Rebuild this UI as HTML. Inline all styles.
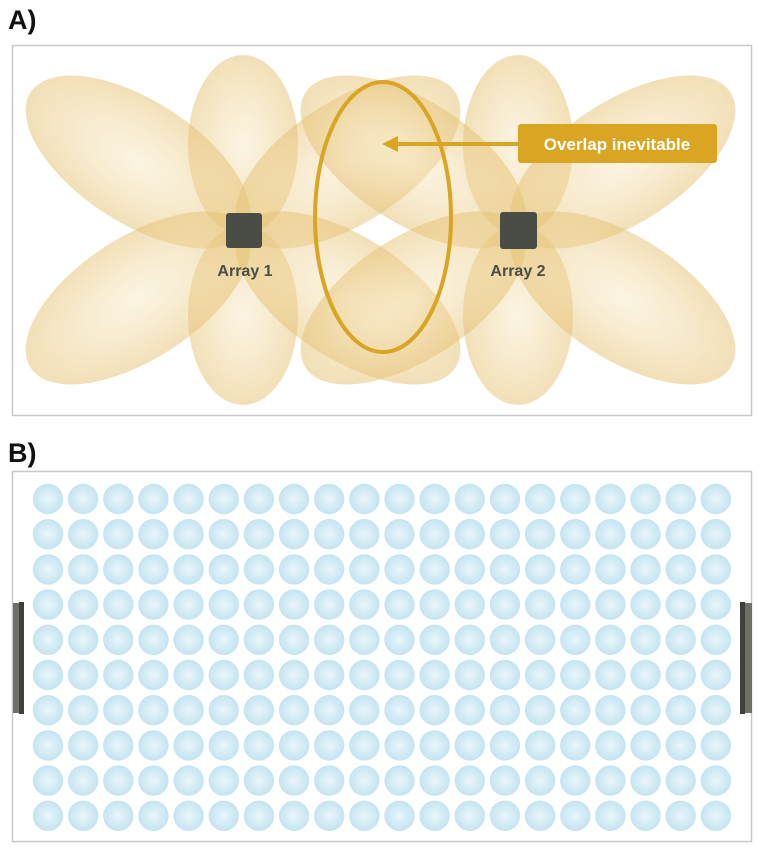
<!DOCTYPE html>
<html><head><meta charset="utf-8"><style>
html,body{margin:0;padding:0;background:#fff;}
svg{display:block;}
</style></head><body>
<svg width="765" height="859" viewBox="0 0 765 859" xmlns="http://www.w3.org/2000/svg">
<defs>
<radialGradient id="lobe" cx="50%" cy="50%" r="50%">
<stop offset="0" stop-color="#f7e4b8" stop-opacity="0.4"/>
<stop offset="1" stop-color="#e5c070" stop-opacity="0.5"/>
</radialGradient>
<radialGradient id="bub" cx="50%" cy="50%" r="50%">
<stop offset="0" stop-color="#e9f6fb"/>
<stop offset="1" stop-color="#c4e4f0"/>
</radialGradient>
<g id="flower">
<ellipse cx="0" cy="-85" rx="55" ry="90" fill="url(#lobe)"/>
<ellipse cx="0" cy="85" rx="55" ry="90" fill="url(#lobe)"/>
<ellipse cx="-105" cy="-68" rx="128" ry="61" transform="rotate(33 -105 -68)" fill="url(#lobe)"/>
<ellipse cx="105" cy="-68" rx="128" ry="61" transform="rotate(-33 105 -68)" fill="url(#lobe)"/>
<ellipse cx="-105" cy="68" rx="128" ry="61" transform="rotate(-33 -105 68)" fill="url(#lobe)"/>
<ellipse cx="105" cy="68" rx="128" ry="61" transform="rotate(33 105 68)" fill="url(#lobe)"/>
</g>
<g id="row">
<circle cx="48" cy="0" r="15.2" fill="url(#bub)"/>
<circle cx="83.15" cy="0" r="15.2" fill="url(#bub)"/>
<circle cx="118.3" cy="0" r="15.2" fill="url(#bub)"/>
<circle cx="153.45" cy="0" r="15.2" fill="url(#bub)"/>
<circle cx="188.6" cy="0" r="15.2" fill="url(#bub)"/>
<circle cx="223.75" cy="0" r="15.2" fill="url(#bub)"/>
<circle cx="258.9" cy="0" r="15.2" fill="url(#bub)"/>
<circle cx="294.05" cy="0" r="15.2" fill="url(#bub)"/>
<circle cx="329.2" cy="0" r="15.2" fill="url(#bub)"/>
<circle cx="364.35" cy="0" r="15.2" fill="url(#bub)"/>
<circle cx="399.5" cy="0" r="15.2" fill="url(#bub)"/>
<circle cx="434.65" cy="0" r="15.2" fill="url(#bub)"/>
<circle cx="469.8" cy="0" r="15.2" fill="url(#bub)"/>
<circle cx="504.95" cy="0" r="15.2" fill="url(#bub)"/>
<circle cx="540.1" cy="0" r="15.2" fill="url(#bub)"/>
<circle cx="575.25" cy="0" r="15.2" fill="url(#bub)"/>
<circle cx="610.4" cy="0" r="15.2" fill="url(#bub)"/>
<circle cx="645.55" cy="0" r="15.2" fill="url(#bub)"/>
<circle cx="680.7" cy="0" r="15.2" fill="url(#bub)"/>
<circle cx="715.85" cy="0" r="15.2" fill="url(#bub)"/>
</g>
</defs>
<text x="8" y="29" font-family="Liberation Sans, sans-serif" font-weight="bold" font-size="27" fill="#111">A)</text>
<rect x="12.5" y="45.5" width="739" height="370" fill="#fff" stroke="#c8c8c8" stroke-width="1.5"/>
<use href="#flower" transform="translate(243,230)"/>
<use href="#flower" transform="translate(518,230)"/>
<rect x="226" y="213" width="36" height="35" rx="3" fill="#4a4d45"/>
<rect x="500" y="212" width="37" height="37" rx="3" fill="#4a4d45"/>
<text x="245" y="276" text-anchor="middle" font-family="Liberation Sans, sans-serif" font-weight="bold" font-size="16" fill="#4a4d45">Array 1</text>
<text x="518" y="276" text-anchor="middle" font-family="Liberation Sans, sans-serif" font-weight="bold" font-size="16" fill="#4a4d45">Array 2</text>
<ellipse cx="383" cy="217" rx="68" ry="135" fill="none" stroke="#d9a522" stroke-width="4"/>
<line x1="395" y1="144" x2="520" y2="144" stroke="#d9a522" stroke-width="4"/>
<polygon points="382,144 398,136 398,152" fill="#d9a522"/>
<rect x="518" y="124" width="199" height="39" rx="3" fill="#d9a522"/>
<text x="617" y="150" text-anchor="middle" font-family="Liberation Sans, sans-serif" font-weight="bold" font-size="17" fill="#fff">Overlap inevitable</text>

<text x="8" y="462" font-family="Liberation Sans, sans-serif" font-weight="bold" font-size="27" fill="#111">B)</text>
<rect x="12.5" y="471.5" width="739" height="370" fill="#fff" stroke="#c8c8c8" stroke-width="1.5"/>
<use href="#row" y="499"/>
<use href="#row" y="534.2"/>
<use href="#row" y="569.4"/>
<use href="#row" y="604.6"/>
<use href="#row" y="639.8"/>
<use href="#row" y="675"/>
<use href="#row" y="710.2"/>
<use href="#row" y="745.4"/>
<use href="#row" y="780.6"/>
<use href="#row" y="815.8"/>
<rect x="13" y="603" width="11" height="110" fill="#6f6e68"/>
<rect x="19" y="602" width="5" height="112" fill="#3e403a"/>
<rect x="740" y="603" width="12" height="110" fill="#6f6e68"/>
<rect x="740" y="602" width="5" height="112" fill="#3e403a"/>
</svg>
</body></html>
